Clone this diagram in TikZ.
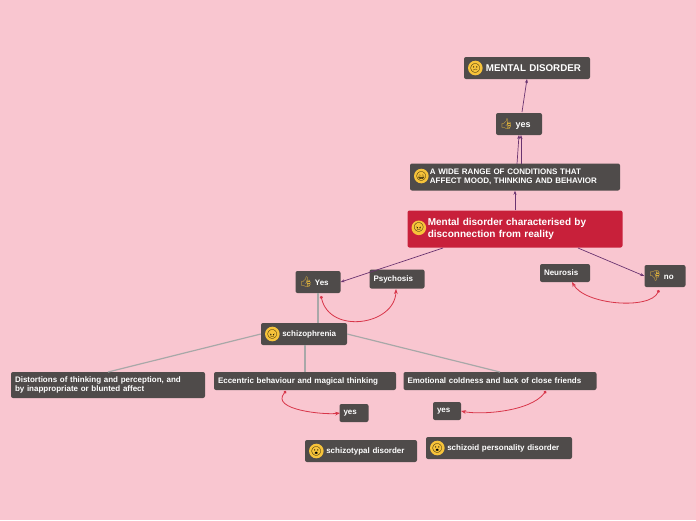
\documentclass[tikz,border=0pt]{standalone}
\usepackage{fontspec}
\setmainfont{Liberation Sans}
\newfontfamily\emo{Noto Emoji}
\usetikzlibrary{arrows.meta}
\definecolor{bg}{HTML}{F9C6D0}
\definecolor{box}{HTML}{4F4B4A}
\definecolor{redbox}{HTML}{C8203A}
\definecolor{purp}{HTML}{6A3470}
\definecolor{redl}{HTML}{D8364A}
\definecolor{greyl}{HTML}{A8A8A8}
\definecolor{emy}{HTML}{F7C33A}
\newcommand{\ic}[1]{\tikz[baseline=-0.7ex]\node[circle,fill=emy,inner sep=0pt,minimum size=11pt,text=black,font=\emo\fontsize{9}{9}\selectfont]{#1};}
\newcommand{\thb}[1]{{\color{emy}\emo\fontsize{10}{10}\selectfont #1}}
\tikzset{
 nd/.style={fill=box,text=white,font=\bfseries\fontsize{8}{9}\selectfont,rounded corners=2pt,inner xsep=4pt,inner ysep=0pt,align=left,minimum height=18pt},
 pl/.style={draw=purp,line width=0.7pt,-{Stealth[length=4pt]}},
 rl/.style={draw=redl,line width=0.8pt,{Circle[length=3pt]}-{Stealth[length=5pt]}},
 gl/.style={draw=greyl,line width=1.2pt},
}
\begin{document}
\begin{tikzpicture}[x=1pt,y=-1pt]
\useasboundingbox[fill=bg] (0,0) rectangle (696,520);
\node[nd,text width=118pt,minimum height=22pt,font=\bfseries\fontsize{9.8}{11}\selectfont] (md) at (527,68) {\ic{😕} MENTAL DISORDER};
\node[nd,text width=38pt,minimum height=22pt,font=\bfseries\fontsize{9}{10}\selectfont] (y1) at (519,124) {\thb{👍} yes};
\node[nd,text width=202pt,minimum height=27pt] (wr) at (515,177) {\ic{😄}\,\begin{tabular}{@{}l@{}}A WIDE RANGE OF CONDITIONS THAT\\AFFECT MOOD, THINKING AND BEHAVIOR\end{tabular}};
\node[nd,fill=redbox,text width=207pt,minimum height=37pt,font=\bfseries\fontsize{10}{11.5}\selectfont] (main) at (515,229) {\ic{😠}\,\begin{tabular}{@{}l@{}}Mental disorder characterised by\\disconnection from reality\end{tabular}};
\node[nd,text width=37pt,minimum height=22pt] (Y) at (318,282) {\thb{👍} Yes};
\node[nd,text width=47pt,minimum height=19pt] (ps) at (397,279) {Psychosis};
\node[nd,text width=42pt,minimum height=18pt] (ne) at (565,273) {Neurosis};
\node[nd,text width=33pt,minimum height=22pt] (no) at (665,276) {\thb{👎} no};
\node[nd,text width=78pt,minimum height=22pt] (sc) at (304,334) {\ic{😠} schizophrenia};
\node[nd,text width=186pt,minimum height=26pt] (di) at (108,385) {Distortions of thinking and perception, and\\by inappropriate or blunted affect};
\node[nd,text width=174pt,minimum height=18pt] (ec) at (305,381) {Eccentric behaviour and magical thinking};
\node[nd,text width=185pt,minimum height=18pt] (em) at (500,381) {Emotional coldness and lack of close friends};
\node[nd,text width=21pt,minimum height=18pt] (ya) at (354,413) {yes};
\node[nd,text width=20pt,minimum height=18pt] (yb) at (447,411) {yes};
\node[nd,text width=104pt,minimum height=22pt] (st) at (361,451) {\ic{😮} schizotypal disorder};
\node[nd,text width=138pt,minimum height=22pt] (sd) at (499,448) {\ic{😮} schizoid personality disorder};
\draw[pl] (main.north) -- (wr.south);
\draw[pl] (517,164) -- (519,135);
\draw[pl] (521,164) -- (521,135);
\draw[pl] (522,112) -- (527,79);
\draw[pl] (443,248) -- (Y.east);
\draw[pl] (578,248) -- (no.west);
\draw[gl] (318,293) -- (318,323);
\draw[gl] (sc.west) -- (108,372);
\draw[gl] (305,345) -- (305,372);
\draw[gl] (sc.east) -- (500,372);
\draw[rl] (321,296) .. controls (330,335) and (395,325) .. (396,289);
\draw[rl] (659,290) .. controls (650,310) and (585,305) .. (572,282);
\draw[rl] (286,391) .. controls (270,410) and (325,415) .. (340,413);
\draw[rl] (546,391) .. controls (530,412) and (480,415) .. (461,411);
\end{tikzpicture}
\end{document}
